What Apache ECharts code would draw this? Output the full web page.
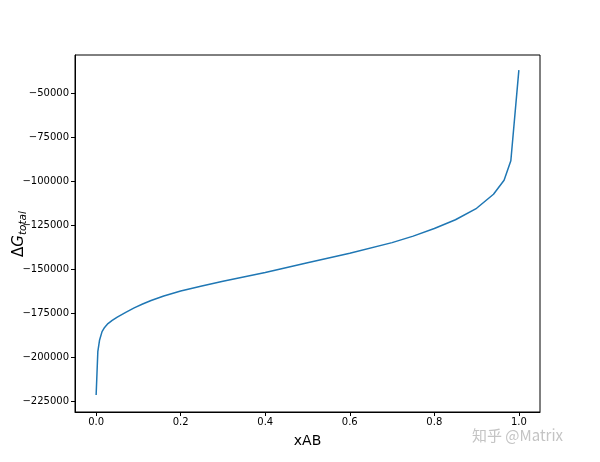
<!DOCTYPE html>
<html><head><meta charset="utf-8">
<script src="https://cdn.jsdelivr.net/npm/echarts@6/dist/echarts.min.js"></script>
<style>html,body{margin:0;padding:0;background:#fff}#c{width:600px;height:462px}</style>
</head><body><div id="c"></div>
<script>
var xAB = [0, 0.004, 0.008, 0.014, 0.02, 0.028, 0.038, 0.05, 0.07, 0.09, 0.11, 0.13, 0.16, 0.2, 0.25, 0.3, 0.4, 0.5, 0.6, 0.7, 0.75, 0.8, 0.85, 0.9, 0.94, 0.965, 0.981, 1.0];
var gTotal = [-221600, -197000, -190500, -185600, -183200, -181000, -179200, -177300, -174600, -172100, -169900, -167900, -165300, -162500, -159600, -157000, -152000, -146400, -141100, -135000, -131300, -127000, -122000, -115500, -107500, -99600, -88500, -37000];
var xTicks = [0, 0.2, 0.4, 0.6, 0.8, 1.0];
var yTicks = [-225000, -200000, -175000, -150000, -125000, -100000, -75000, -50000];

var data = xAB.map(function(x, i){ return [x, gTotal[i]]; });
var chart = echarts.init(document.getElementById('c'), null, {renderer:'canvas'});
var tickFont = {fontFamily:'DejaVu Sans', fontSize:10, color:'#000'};
chart.setOption({
  animation:false,
  grid:{left:75, right:60, top:55, bottom:50, show:true, borderColor:'#000', borderWidth:1, backgroundColor:'#fff', containLabel:false, outerBoundsMode:'none'},
  xAxis:{type:'value', min:-0.05, max:1.05,
    name:'xAB', nameLocation:'middle', nameGap:22,
    nameTextStyle:{fontFamily:'DejaVu Sans', fontSize:14, color:'#000'},
    axisLine:{show:true, onZero:false, lineStyle:{color:'#000', width:1}},
    axisTick:{show:true, length:4, lineStyle:{color:'#000'}, customValues:xTicks},
    axisLabel:Object.assign({margin:5, customValues:xTicks, formatter:function(v){return v.toFixed(1);}}, tickFont),
    splitLine:{show:false}},
  yAxis:{type:'value', min:-231250, max:-28400,
    axisLine:{show:true, onZero:false, lineStyle:{color:'#000', width:1}},
    axisTick:{show:true, length:4, lineStyle:{color:'#000'}, customValues:yTicks},
    axisLabel:Object.assign({margin:6, customValues:yTicks, formatter:function(v){return String(v).replace('-', '\u2212');}}, tickFont),
    splitLine:{show:false}},
  series:[{type:'line', data:data, showSymbol:false, smooth:false,
    lineStyle:{color:'#1f77b4', width:1.5}}],
  graphic:[
    {type:'text', x:19, y:234, rotation:Math.PI/2, style:{
      text:'{d|Δ}{g|G}{s|total}', align:'center', verticalAlign:'middle',
      rich:{
        d:{fontFamily:'DejaVu Sans', fontSize:15, fill:'#000'},
        g:{fontFamily:'DejaVu Sans', fontStyle:'italic', fontSize:15, fill:'#000'},
        s:{fontFamily:'DejaVu Sans', fontStyle:'italic', fontSize:10.5, fill:'#000', padding:[8,0,0,0]}
      }}},
    {type:'text', left:472, top:428, style:{text:'知乎 @Matrix', fontFamily:'Noto Sans CJK SC', fontSize:15, fill:'#c4c4c4'}}
  ]
});
</script></body></html>
